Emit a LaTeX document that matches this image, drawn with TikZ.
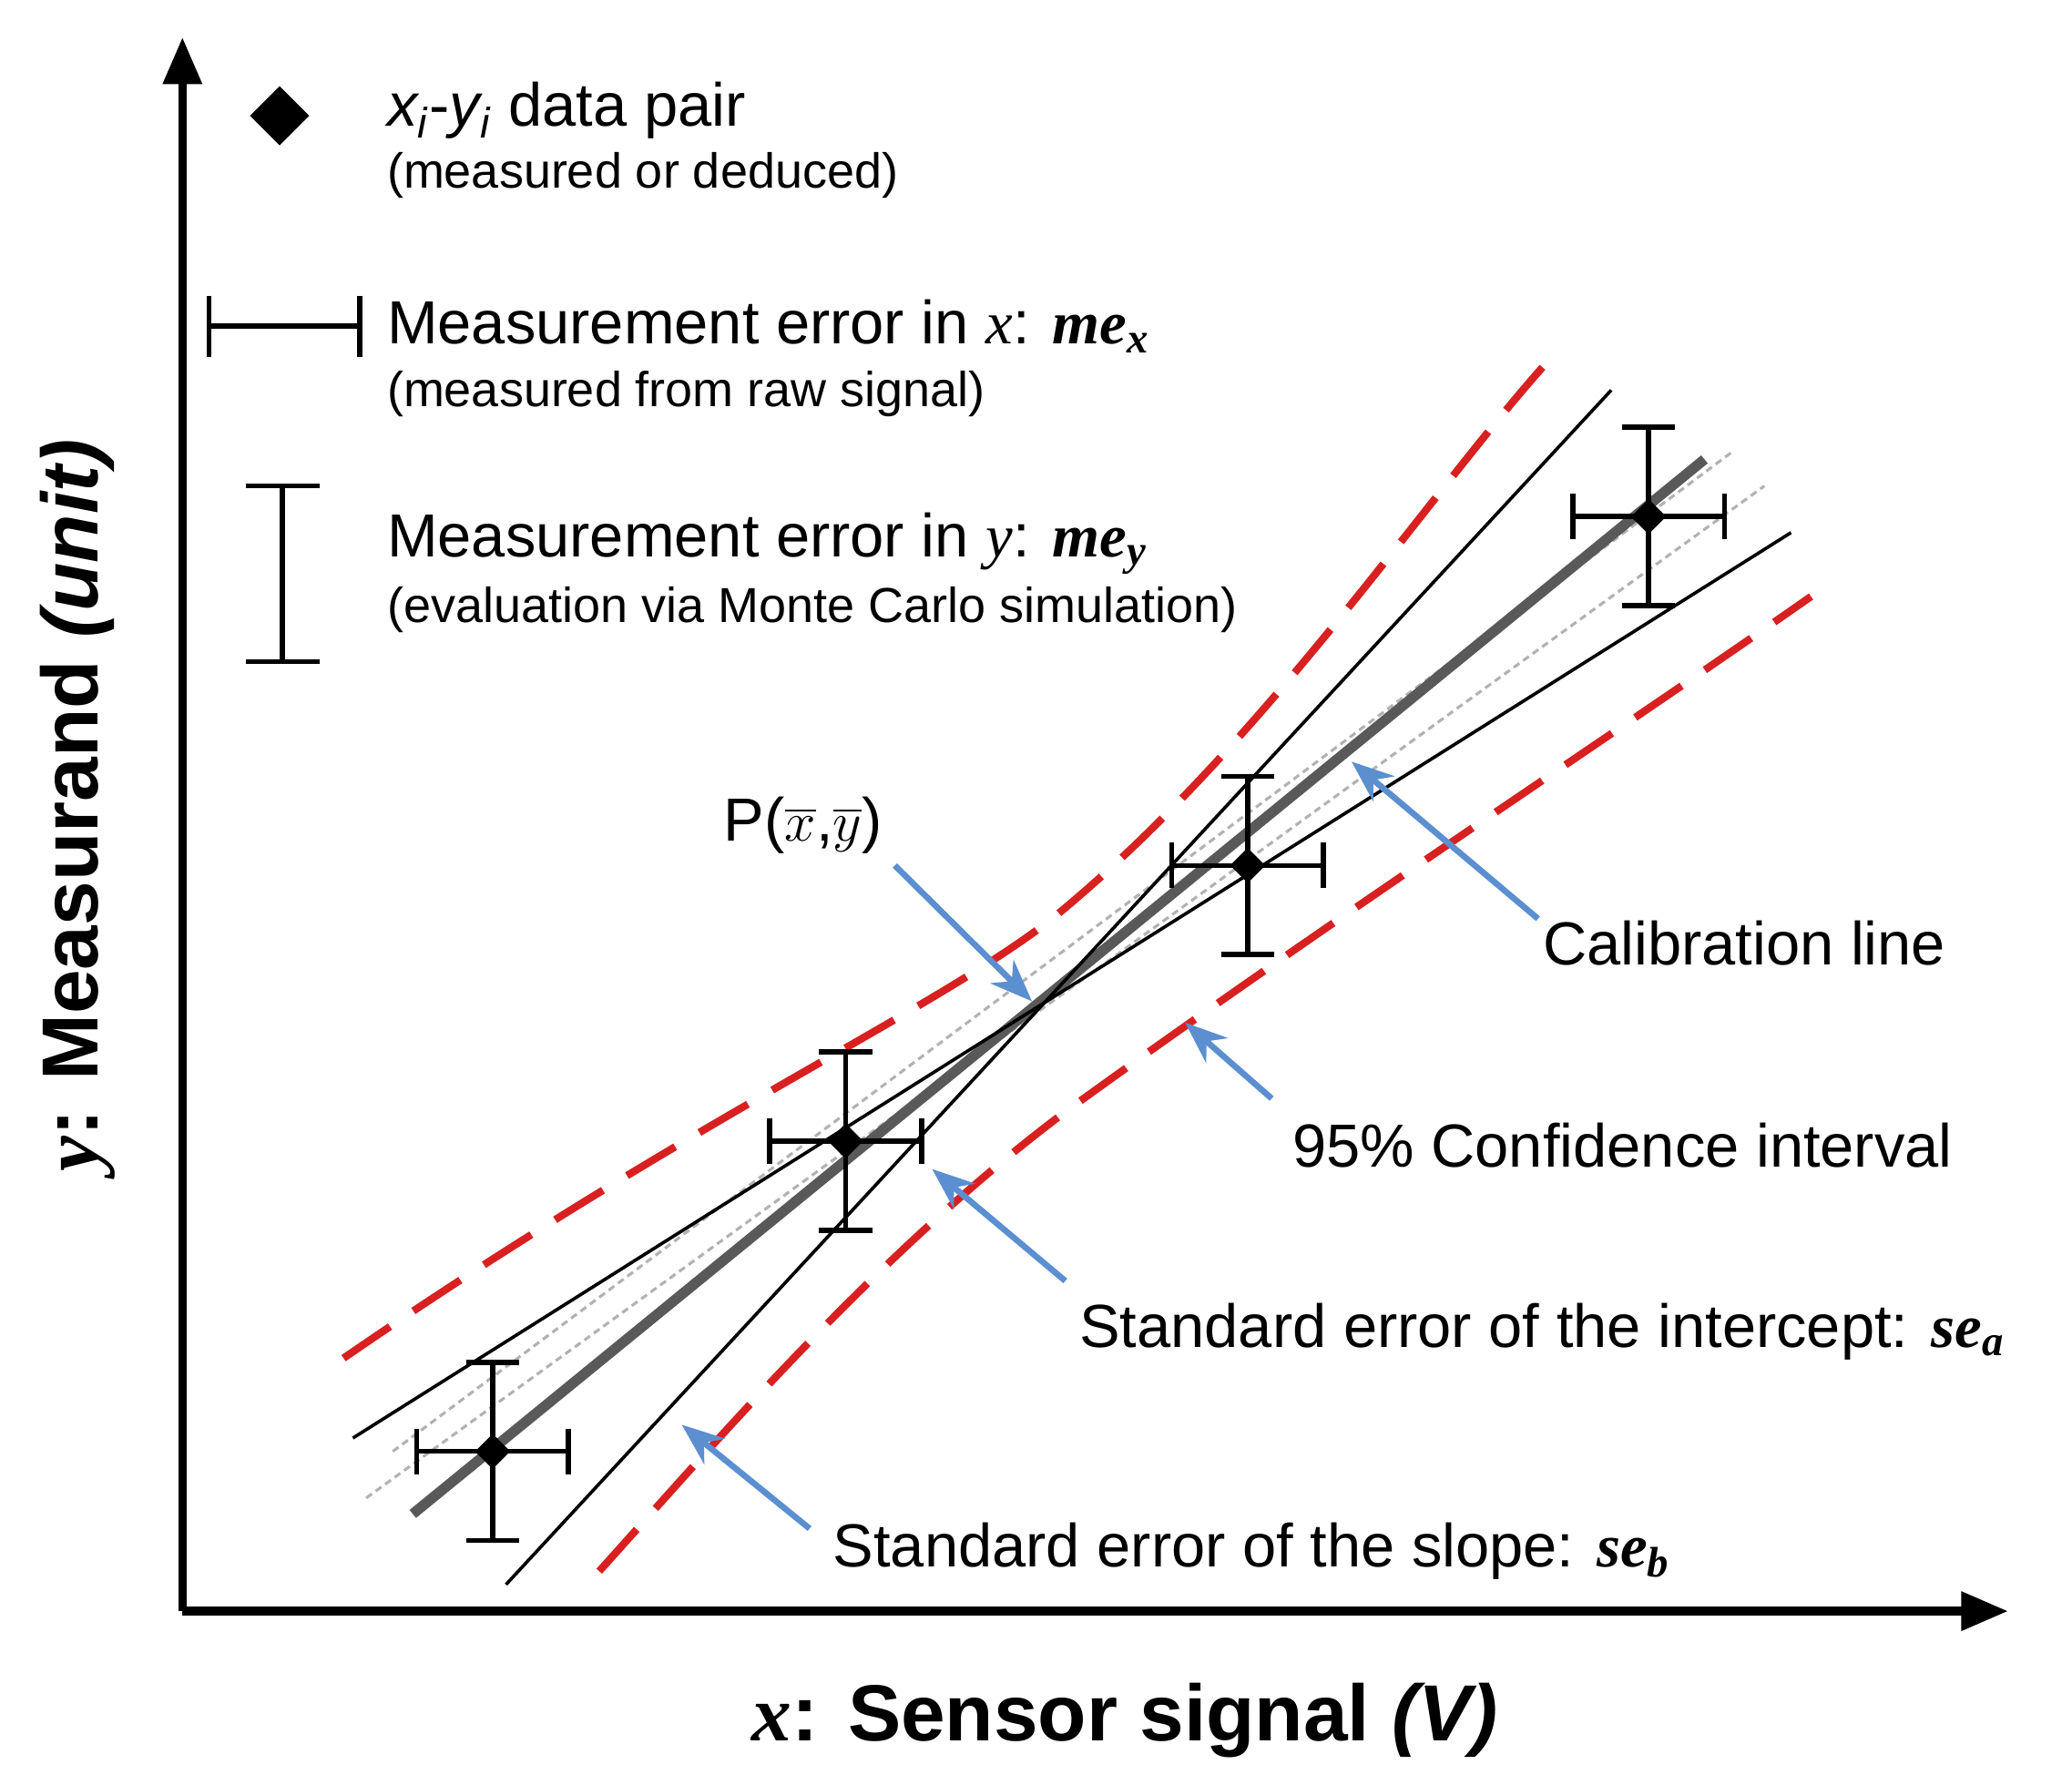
\documentclass[tikz,border=0pt]{standalone}
\usepackage{fontspec}
\setmainfont{Liberation Sans}
\newfontfamily\srf{Liberation Serif}
\usetikzlibrary{arrows.meta}
\definecolor{arrblue}{HTML}{5B8FD0}
\definecolor{dred}{HTML}{D92020}
\tikzset{
 ax/.style={line width=1.8pt,-{Triangle[length=10pt,width=8pt]}},
 blu/.style={arrblue,line width=1.3pt,-{Stealth[length=9pt,width=7pt]}},
 reddash/.style={dred,line width=1.6pt,dash pattern=on 12pt off 6pt},
 thinb/.style={black,line width=0.7pt},
 dotg/.style={gray!60,line width=0.6pt,dash pattern=on 1.5pt off 1pt},
 lbl/.style={font=\fontsize{13}{15}\selectfont,anchor=west,inner sep=0},
 sml/.style={font=\fontsize{10.5}{12}\selectfont,anchor=west,inner sep=0},
 dia/.style={fill=black,draw=none,minimum size=0.27cm,shape=diamond,inner sep=0},
}
\usetikzlibrary{shapes.geometric}
\newcommand{\errx}[2]{%
 \draw[line width=1.1pt] (#1-57,#2)--(#1+57,#2) (#1-57,#2-17)--(#1-57,#2+17) (#1+57,#2-17)--(#1+57,#2+17)
 (#1,#2-67)--(#1,#2+67) (#1-20,#2-67)--(#1+20,#2-67) (#1-20,#2+67)--(#1+20,#2+67);}
\begin{document}
\begin{tikzpicture}[x=0.01cm,y=-0.01cm]
\useasboundingbox (0,0) rectangle (1556,1340);
% axes
\coordinate (O) at (137,1210);
\coordinate (Y) at (137,28);
\coordinate (X) at (1508,1210);
\draw[ax] (O)--(Y);
\draw[ax] (O)--(X);
% dotted gray
\draw[dotg] (275,1125)--(1325,365);
\draw[dotg] (295,1090)--(1300,340);
% lines
\draw[gray!70!black,line width=2.2pt] (310,1137)--(1280,345);
\draw[thinb] (380,1190)--(1210,293);
\draw[thinb] (265,1080)--(1345,400);
% red dashed
\draw[reddash] (258,1020) .. controls (520,840) and (700,760) .. (790,690) .. controls (950,560) and (1080,360) .. (1170,263);
\draw[reddash] (450,1180) .. controls (540,1080) and (660,940) .. (800,835) .. controls (1000,690) and (1200,560) .. (1360,448);
% data
\foreach \n/\x/\y in {a/370/1090,b/635/857,c/937/650,d/1238/388}{
 \errx{\x}{\y}
 \node[dia] (\n) at (\x,\y) {};
}
% legend
\node[dia,minimum size=0.45cm] (ld) at (210,87) {};
\node[lbl] (t1) at (290,83) {\textit{x\textsubscript{i}}-\textit{y\textsubscript{i}} data pair};
\node[sml] (t1b) at (290,132) {(measured or deduced)};
\draw[line width=1.1pt] (157,245)--(270,245) (157,222)--(157,268) (270,222)--(270,268);
\node[lbl] (t2) at (290,245) {Measurement error in {\srf\itshape x}: {\srf\bfseries\itshape me\textsubscript{x}}};
\node[sml] (t2b) at (290,296) {(measured from raw signal)};
\draw[line width=1.1pt] (212,365)--(212,497) (185,365)--(240,365) (185,497)--(240,497);
\node[lbl] (t3) at (290,408) {Measurement error in {\srf\itshape y}: {\srf\bfseries\itshape me\textsubscript{y}}};
\node[sml] (t3b) at (290,458) {(evaluation via Monte Carlo simulation)};
% annotations
\node[lbl] (P) at (543,620) {P($\overline{x}$,$\overline{y}$)};
\coordinate (Pt) at (775,752);
\draw[blu] (672,650)--(Pt);
\node[lbl] (cal) at (1158,708) {Calibration line};
\coordinate (calt) at (1015,572);
\draw[blu] (1155,690)--(calt);
\node[lbl] (ci) at (970,860) {95\% Confidence interval};
\coordinate (cit) at (890,768);
\draw[blu] (955,825)--(cit);
\node[lbl] (sea) at (810,1000) {Standard error of the intercept: {\srf\bfseries\itshape se\textsubscript{a}}};
\coordinate (seat) at (700,878);
\draw[blu] (800,962)--(seat);
\node[lbl] (seb) at (625,1165) {Standard error of the slope: {\srf\bfseries\itshape se\textsubscript{b}}};
\coordinate (sebt) at (512,1070);
\draw[blu] (608,1148)--(sebt);
% axis labels
\node[font=\fontsize{17}{20}\selectfont\bfseries,inner sep=0] (xl) at (845,1292) {{\srf\itshape x}: Sensor signal \textit{(V)}};
\node[font=\fontsize{17}{20}\selectfont\bfseries,inner sep=0,rotate=90] (yl) at (58,605) {{\srf\itshape y}: Measurand \textit{(unit)}};
\end{tikzpicture}
\end{document}
